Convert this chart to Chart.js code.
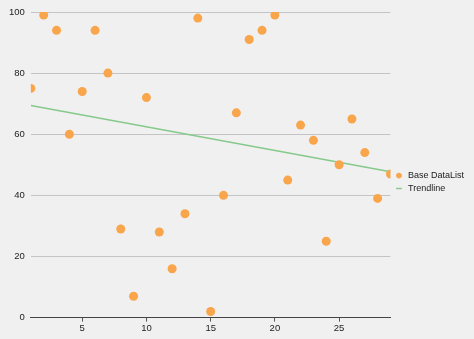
<!DOCTYPE html>
<html>
<head>
<meta charset="utf-8">
<script src="https://cdn.jsdelivr.net/npm/chart.js@4/dist/chart.umd.min.js"></script>
<style>
html,body{margin:0;padding:0;background:#f0f0f0;}
#wrap{width:474px;height:339px;position:relative;}
</style>
</head>
<body>
<div id="wrap"><canvas id="c" width="474" height="339"></canvas></div>
<script>
const xValues = [1,2,3,4,5,6,7,8,9,10,11,12,13,14,15,16,17,18,19,20,21,22,23,24,25,26,27,28,29];
const baseValues = [75,99,94,60,74,94,80,29,7,72,28,16,34,98,2,40,67,91,94,99,45,63,58,25,50,65,54,39,47];
const trendX = [1,29];
const trendY = [69.4,47.7];
const xTickLabels = [5,10,15,20,25];
const yTickLabels = [0,20,40,60,80,100];

const basePoints = xValues.map((x,i)=>({x:x,y:baseValues[i]}));
const trendPoints = trendX.map((x,i)=>({x:x,y:trendY[i]}));

const bgPlugin = {
  id:'bg',
  beforeDraw(chart){
    const c=chart.ctx; c.save(); c.fillStyle='#f0f0f0'; c.fillRect(0,0,chart.width,chart.height); c.restore();
  }
};

const FONT = 'Liberation Sans';

new Chart(document.getElementById('c'), {
  type:'scatter',
  data:{
    datasets:[
      {label:'Base DataList', data:basePoints, backgroundColor:'#f9a54c', borderColor:'#f9a54c', pointRadius:4.5, pointHoverRadius:4.5, pointStyle:'circle', borderWidth:0, order:1},
      {label:'Trendline', type:'line', data:trendPoints, borderColor:'#86c98a', backgroundColor:'#86c98a', borderWidth:1.5, pointRadius:0, pointStyle:'line', fill:false, order:2}
    ]
  },
  options:{
    responsive:false,
    animation:false,
    layout:{padding:{left:3,right:0,top:12,bottom:4}},
    plugins:{
      legend:{
        position:'right',
        title:{display:true, text:' ', font:{size:1}, padding:{top:16,bottom:0}},
        labels:{usePointStyle:true, boxWidth:9, boxHeight:4, padding:4, color:'#222', font:{family:FONT, size:9}}
      },
      tooltip:{enabled:false}
    },
    scales:{
      x:{
        type:'linear', min:1, max:29,
        afterBuildTicks(s){ s.ticks = xTickLabels.map(v=>({value:v})); },
        grid:{display:true, drawOnChartArea:false, drawTicks:true, tickLength:4, color:'#555'},
        border:{display:true, color:'#444', width:1},
        ticks:{color:'#222', font:{family:FONT, size:9.5}, padding:1, maxRotation:0}
      },
      y:{
        type:'linear', min:0, max:100,
        afterBuildTicks(s){ s.ticks = yTickLabels.map(v=>({value:v})); },
        grid:{color:'#c4c4c4', drawTicks:false},
        border:{display:false},
        ticks:{color:'#222', font:{family:FONT, size:9.5}, padding:6}
      }
    }
  },
  plugins:[bgPlugin]
});
</script>
</body>
</html>
